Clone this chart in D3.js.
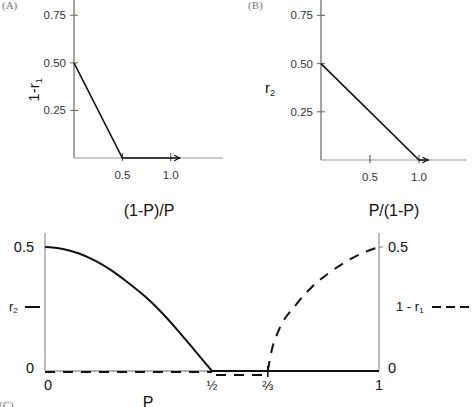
<!DOCTYPE html>
<html>
<head>
<meta charset="utf-8">
<script src="https://cdn.jsdelivr.net/npm/d3@7"></script>
<style>
body { margin: 0; background: #fff; }
svg { display: block; font-family: "Liberation Sans", Arial, sans-serif; }
</style>
</head>
<body>
<svg id="chart" width="474" height="407"></svg>
<script>
// panel A : 1-r1 against (1-P)/P
var lineA = [[0, 0.5], [0.5, 0], [1.1, 0]];
// panel B : r2 against P/(1-P)
var lineB = [[0, 0.5], [1.0, 0], [1.1, 0]];
var topYTicks = [0.25, 0.50, 0.75];
var topXTicks = [0.5, 1.0];

// panel C : both against P
var r2Curve = [[0, 0.5], [0.05, 0.493], [0.1, 0.475], [0.15, 0.445], [0.2, 0.405], [0.25, 0.355],
               [0.3, 0.30], [0.35, 0.235], [0.4, 0.16], [0.45, 0.08], [0.5, 0]];
var r2Flat = [[0.5, 0], [1, 0]];
var r1Flat = [[0, 0], [0.5, 0]];
var r1Overlap = [[0.5, 0], [0.667, 0]];
var r1Curve = [[0.667, 0], [0.68, 0.09], [0.7, 0.165], [0.75, 0.265], [0.8, 0.34],
               [0.85, 0.395], [0.9, 0.44], [0.95, 0.475], [1, 0.5]];
var cXTicks = [[0, "0"], [0.5, "\u00bd"], [0.667, "\u2154"], [1, "1"]];
var cYTicks = [0, 0.5];

var svg = d3.select("#chart");

svg.append("defs").append("marker")
  .attr("id", "arrow")
  .attr("viewBox", "0 0 10 10")
  .attr("refX", 10).attr("refY", 5)
  .attr("markerWidth", 7).attr("markerHeight", 7)
  .attr("markerUnits", "userSpaceOnUse")
  .attr("orient", "auto")
  .append("path")
  .attr("d", "M1,1 L9,5 L1,9")
  .attr("fill", "none")
  .attr("stroke", "#111")
  .attr("stroke-width", 1.6);

// small top panels
function topPanel(opt) {
  var x = d3.scaleLinear().domain([0, opt.xMax]).range([opt.left, opt.right]);
  var y = d3.scaleLinear().domain([0, opt.yMax]).range([opt.bottom, 0]);
  var g = svg.append("g");

  // axes lines
  g.append("line").attr("x1", x(0)).attr("x2", x(0)).attr("y1", y(0)).attr("y2", y(opt.yMax))
    .attr("stroke", "#666").attr("stroke-width", 1.2);
  g.append("line").attr("x1", x(0)).attr("x2", x(opt.xMax)).attr("y1", y(0)).attr("y2", y(0))
    .attr("stroke", "#999").attr("stroke-width", 1.2);

  topYTicks.forEach(function(t) {
    g.append("line").attr("x1", x(0) - 4).attr("x2", x(0) + 4).attr("y1", y(t)).attr("y2", y(t))
      .attr("stroke", "#666").attr("stroke-width", 1);
    g.append("text").attr("x", x(0) - 8).attr("y", y(t) + 4)
      .attr("text-anchor", "end").attr("font-size", 11.5).attr("fill", "#333")
      .text(d3.format(".2f")(t));
  });
  topXTicks.forEach(function(t) {
    g.append("line").attr("x1", x(t)).attr("x2", x(t)).attr("y1", y(0) - 5).attr("y2", y(0) + 3)
      .attr("stroke", "#444").attr("stroke-width", 1);
    g.append("text").attr("x", x(t)).attr("y", y(0) + 21)
      .attr("text-anchor", "middle").attr("font-size", 11.5).attr("fill", "#333")
      .text(d3.format(".1f")(t));
  });

  g.append("path").datum(opt.data)
    .attr("d", d3.line().x(function(d) { return x(d[0]); }).y(function(d) { return y(d[1]); }))
    .attr("fill", "none").attr("stroke", "#111").attr("stroke-width", 1.6)
    .attr("marker-end", "url(#arrow)");

  // x title
  g.append("text").attr("x", opt.xTitleX).attr("y", 216)
    .attr("text-anchor", "middle").attr("font-size", 16).attr("fill", "#111")
    .text(opt.xTitle);

  // panel letter
  g.append("text").attr("x", opt.letterX).attr("y", 9)
    .attr("font-family", "'Liberation Serif', serif").attr("font-size", 11).attr("fill", "#777")
    .text(opt.letter);
  return g;
}

var gA = topPanel({ left: 74, right: 223, bottom: 158, xMax: 1.54, yMax: 0.83, data: lineA,
  xTitle: "(1-P)/P", xTitleX: 149, letter: "(A)", letterX: 2 });
var tA = gA.append("text").attr("transform", "translate(39,90) rotate(-90)")
  .attr("text-anchor", "middle").attr("font-size", 15).attr("fill", "#111");
tA.append("tspan").text("1-r");
tA.append("tspan").attr("font-size", 9).attr("dy", 3).text("1");

var gB = topPanel({ left: 321, right: 467, bottom: 160, xMax: 1.49, yMax: 0.83, data: lineB,
  xTitle: "P/(1-P)", xTitleX: 394, letter: "(B)", letterX: 248 });
var tB = gB.append("text").attr("x", 265).attr("y", 93)
  .attr("font-size", 15).attr("fill", "#111");
tB.append("tspan").text("r");
tB.append("tspan").attr("font-size", 9).attr("dy", 3).text("2");

// bottom panel
var xC = d3.scaleLinear().domain([0, 1]).range([45, 379]);
var yC = d3.scaleLinear().domain([0, 0.5]).range([371, 247]);
var gC = svg.append("g");
var lineC = d3.line().x(function(d) { return xC(d[0]); }).y(function(d) { return yC(d[1]); });
var curveC = d3.line().curve(d3.curveMonotoneX)
  .x(function(d) { return xC(d[0]); }).y(function(d) { return yC(d[1]); });

gC.append("line").attr("x1", xC(0)).attr("x2", xC(0)).attr("y1", yC(0)).attr("y2", yC(0.556))
  .attr("stroke", "#999").attr("stroke-width", 1.3);
gC.append("line").attr("x1", xC(1)).attr("x2", xC(1)).attr("y1", yC(0)).attr("y2", yC(0.556))
  .attr("stroke", "#999").attr("stroke-width", 1.3);
gC.append("line").attr("x1", xC(0)).attr("x2", xC(1)).attr("y1", yC(0)).attr("y2", yC(0))
  .attr("stroke", "#999").attr("stroke-width", 1.3);
gC.append("line").attr("x1", xC(1)).attr("x2", xC(1) + 4).attr("y1", yC(0.5)).attr("y2", yC(0.5))
  .attr("stroke", "#777").attr("stroke-width", 1);
gC.append("line").attr("x1", xC(0.667)).attr("x2", xC(0.667)).attr("y1", yC(0) - 5).attr("y2", yC(0) + 6)
  .attr("stroke", "#111").attr("stroke-width", 1.6);

gC.append("path").datum(r2Curve).attr("d", curveC)
  .attr("fill", "none").attr("stroke", "#111").attr("stroke-width", 2);
gC.append("path").datum(r2Flat).attr("d", lineC)
  .attr("fill", "none").attr("stroke", "#111").attr("stroke-width", 2);
gC.append("path").datum(r1Flat).attr("d", lineC)
  .attr("fill", "none").attr("stroke", "#111").attr("stroke-width", 2)
  .attr("stroke-dasharray", "10,8").attr("transform", "translate(0,1)");
gC.append("path").datum(r1Overlap).attr("d", lineC)
  .attr("fill", "none").attr("stroke", "#111").attr("stroke-width", 2)
  .attr("stroke-dasharray", "10,8").attr("stroke-dashoffset", -4).attr("transform", "translate(0,4)");
gC.append("path").datum(r1Curve).attr("d", curveC)
  .attr("fill", "none").attr("stroke", "#111").attr("stroke-width", 2)
  .attr("stroke-dasharray", "10,8");

cXTicks.forEach(function(t) {
  var small = t[1] !== "0" && t[1] !== "1";
  gC.append("text").attr("x", xC(t[0]) + (t[0] === 0 ? 3 : 0)).attr("y", 390)
    .attr("text-anchor", "middle").attr("font-size", small ? 13 : 14.5).attr("fill", "#111")
    .text(t[1]);
});
cYTicks.forEach(function(t) {
  var lbl = t === 0 ? "0" : "0.5";
  gC.append("text").attr("x", 34).attr("y", yC(t) + (t === 0 ? 2 : 5))
    .attr("text-anchor", "end").attr("font-size", 14.5).attr("fill", "#111").text(lbl);
  gC.append("text").attr("x", 388).attr("y", yC(t) + (t === 0 ? 2 : 5))
    .attr("text-anchor", "start").attr("font-size", 14.5).attr("fill", "#111").text(lbl);
});

// legend
var lr2 = gC.append("text").attr("x", 9).attr("y", 311).attr("font-size", 13).attr("fill", "#111");
lr2.append("tspan").text("r");
lr2.append("tspan").attr("font-size", 8).attr("dy", 2).text("2");
gC.append("line").attr("x1", 25).attr("x2", 40).attr("y1", 307).attr("y2", 307)
  .attr("stroke", "#111").attr("stroke-width", 2);
var lr1 = gC.append("text").attr("x", 396).attr("y", 311).attr("font-size", 13).attr("fill", "#111");
lr1.append("tspan").text("1 - r");
lr1.append("tspan").attr("font-size", 8).attr("dy", 2).text("1");
gC.append("line").attr("x1", 432).attr("x2", 474).attr("y1", 307).attr("y2", 307)
  .attr("stroke", "#111").attr("stroke-width", 2).attr("stroke-dasharray", "9,5");

gC.append("text").attr("x", 148).attr("y", 408).attr("text-anchor", "middle")
  .attr("font-size", 16).attr("fill", "#111").text("P");
gC.append("text").attr("x", -1).attr("y", 409)
  .attr("font-family", "'Liberation Serif', serif").attr("font-size", 11).attr("fill", "#777")
  .text("(C)");
</script>
</body>
</html>
